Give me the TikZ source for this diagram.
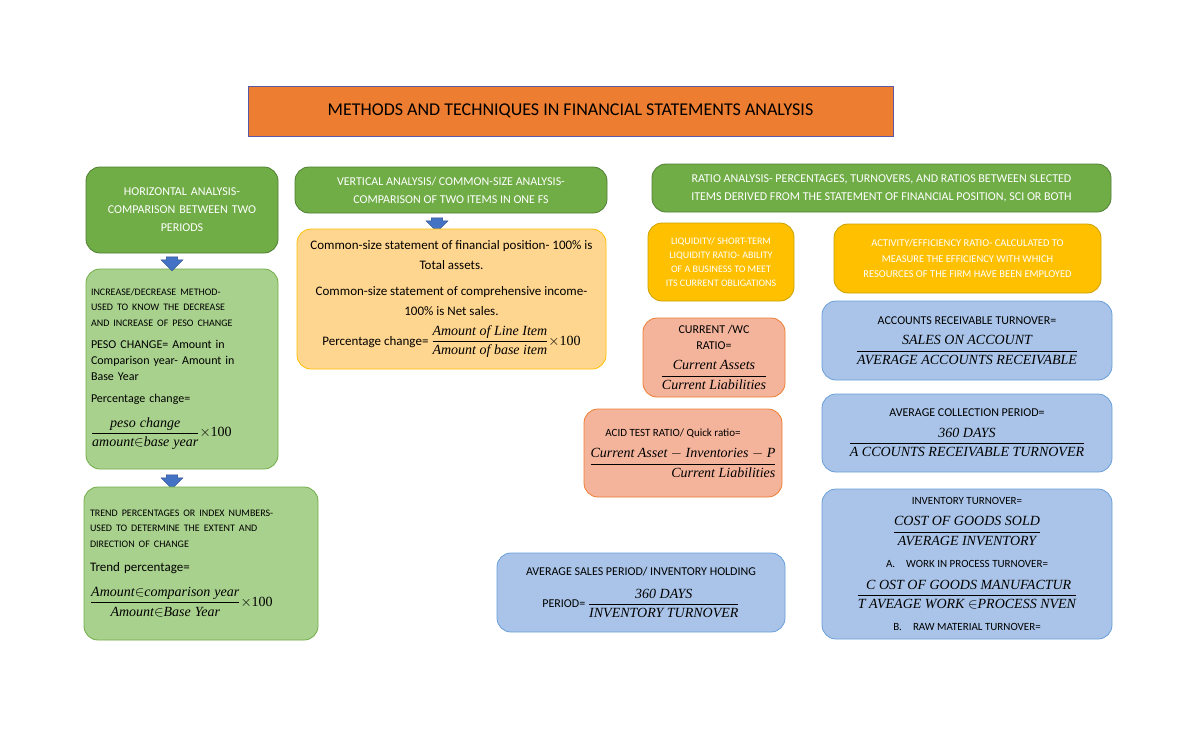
\documentclass[tikz,border=0pt]{standalone}
\usepackage{fontspec}
\setmainfont{Carlito}
\newfontfamily\mf{Liberation Serif}
\usetikzlibrary{shapes.arrows}
\newcommand{\fr}[2]{$\displaystyle\frac{\mbox{\mf\itshape #1}}{\mbox{\mf\itshape #2}}$}
\definecolor{dg}{HTML}{70AD47}
\definecolor{dgb}{HTML}{507E32}
\definecolor{lg}{HTML}{A9D18E}
\definecolor{lo}{HTML}{FFD68F}
\definecolor{gold}{HTML}{FFC000}
\definecolor{goldb}{HTML}{C9A200}
\definecolor{sal}{HTML}{F4B49C}
\definecolor{salb}{HTML}{ED7D31}
\definecolor{bl}{HTML}{A9C4E8}
\definecolor{blb}{HTML}{6A9FD8}
\definecolor{tor}{HTML}{ED7D31}
\definecolor{arb}{HTML}{4472C4}
\begin{document}
\begin{tikzpicture}[x=1pt,y=-1pt,
 bx/.style={rounded corners=14pt,line width=0.8pt,inner sep=4pt},
 green/.style={bx,fill=dg,draw=dgb,text=white,font=\fontsize{12}{18}\selectfont,align=center},
 lgreen/.style={bx,fill=lg,draw=dg,font=\fontsize{12}{16}\selectfont,align=left},
 gld/.style={bx,fill=gold,draw=goldb,text=white,font=\fontsize{10}{14}\selectfont,align=center},
 sl/.style={bx,fill=sal,draw=salb,font=\fontsize{12}{16}\selectfont,align=center},
 blu/.style={bx,fill=bl,draw=blb,font=\fontsize{12}{16}\selectfont,align=center},
 darr/.style={single arrow,fill=arb,draw=arb!70!black,shape border rotate=270,minimum height=14pt,minimum width=22pt,single arrow head extend=2pt,inner sep=2pt}]
\useasboundingbox (0,0) rectangle (1200,729);
\fill[white] (0,0) rectangle (1200,729);
\node[fill=tor,draw=gray!70!blue,line width=0.6pt,minimum width=645pt,minimum height=50pt,font=\fontsize{18}{20}\selectfont] (title) at (570.5,111) {METHODS AND TECHNIQUES IN FINANCIAL STATEMENTS ANALYSIS};
% horizontal
\node[green,minimum width=192pt,minimum height=86pt,text width=180pt] (hor) at (182,210) {HORIZONTAL ANALYSIS-\\COMPARISON BETWEEN TWO\\PERIODS};
\node[lgreen,minimum width=192pt,minimum height=200pt,text width=182pt] (inc) at (182,369) {{\fontsize{10}{15}\selectfont INCREASE/DECREASE METHOD-\\USED TO KNOW THE DECREASE\\AND INCREASE OF PESO CHANGE}\\[6pt]PESO CHANGE= Amount in\\Comparison year- Amount in\\Base Year\\[6pt]Percentage change=\\[12pt] {\fontsize{14}{16}\selectfont\fr{peso change}{amount$\in$base year}$\times${\mf 100}}};
\node[darr] (a1) at (172,261) {};
\node[darr] (a2) at (172,479) {};
\node[lgreen,minimum width=234pt,minimum height=153pt,text width=222pt] (trend) at (201,563.5) {{\fontsize{10}{15}\selectfont TREND PERCENTAGES OR INDEX NUMBERS-\\USED TO DETERMINE THE EXTENT AND\\DIRECTION OF CHANGE}\\[8pt]{\fontsize{13}{15}\selectfont Trend percentage=}\\[12pt]{\fontsize{14}{16}\selectfont\fr{Amount$\in$comparison year}{Amount$\in$Base Year}$\times${\mf 100}}};
% vertical
\node[green,minimum width=312pt,minimum height=46pt] (ver) at (451,190) {VERTICAL ANALYSIS/ COMMON-SIZE ANALYSIS-\\COMPARISON OF TWO ITEMS IN ONE FS};
\node[darr] (a3) at (437,222) {};
\node[bx,fill=lo,draw=gold,minimum width=309pt,minimum height=140pt,align=center,font=\fontsize{13}{20}\selectfont] (com) at (451.5,299) {Common-size statement of financial position- 100\% is\\Total assets.\\[6pt]Common-size statement of comprehensive income-\\100\% is Net sales.\\[10pt]Percentage change= {\fontsize{14}{16}\selectfont\fr{Amount of Line Item}{Amount of base item}$\times${\mf 100}}};
% ratio
\node[green,minimum width=459pt,minimum height=48pt] (rat) at (881.5,188) {RATIO ANALYSIS- PERCENTAGES, TURNOVERS, AND RATIOS BETWEEN SLECTED\\ITEMS DERIVED FROM THE STATEMENT OF FINANCIAL POSITION, SCI OR BOTH};
\node[gld,minimum width=146pt,minimum height=78pt] (liq) at (721,262) {LIQUIDITY/ SHORT-TERM\\LIQUIDITY RATIO- ABILITY\\OF A BUSINESS TO MEET\\ITS CURRENT OBLIGATIONS};
\node[gld,minimum width=267pt,minimum height=69pt,font=\fontsize{10.5}{15.5}\selectfont] (act) at (967.5,258.5) {ACTIVITY/EFFICIENCY RATIO- CALCULATED TO\\MEASURE THE EFFICIENCY WITH WHICH\\RESOURCES OF THE FIRM HAVE BEEN EMPLOYED};
\node[sl,minimum width=142pt,minimum height=79pt] (cur) at (714,357.5) {CURRENT /WC\\RATIO=\\[10pt]{\fontsize{14}{16}\selectfont\fr{Current Assets}{Current Liabilities}}};
\node[sl,minimum width=198pt,minimum height=88pt,font=\fontsize{11}{14}\selectfont] (acid) at (683,453) {\hspace*{-20pt}ACID TEST RATIO/ Quick ratio=\\[10pt]{\fontsize{14}{16}\selectfont\fr{Current Asset $-$ Inventories $-$ P}{\hfill Current Liabilities}}};
\node[blu,minimum width=290pt,minimum height=79pt] (ar) at (967,340.5) {ACCOUNTS RECEIVABLE TURNOVER=\\[10pt]{\fontsize{14}{16}\selectfont\fr{SALES ON ACCOUNT}{AVERAGE ACCOUNTS RECEIVABLE}}};
\node[blu,minimum width=290pt,minimum height=78pt] (acp) at (967,433) {AVERAGE COLLECTION PERIOD=\\[10pt]{\fontsize{14}{16}\selectfont\fr{360 DAYS}{A CCOUNTS RECEIVABLE TURNOVER}}};
\node[blu,minimum width=290pt,minimum height=150pt,font=\fontsize{11}{13}\selectfont] (inv) at (967,564) {INVENTORY TURNOVER=\\[11pt]{\fontsize{14}{16}\selectfont\fr{COST OF GOODS SOLD}{AVERAGE INVENTORY}}\\[14pt]A.\quad WORK IN PROCESS TURNOVER=\\[11pt]{\fontsize{14}{16}\selectfont\fr{\ C OST OF GOODS MANUFACTUR}{T AVEAGE WORK $\in$PROCESS NVEN}}\\[13pt]B.\quad RAW MATERIAL TURNOVER=};
\node[blu,minimum width=288pt,minimum height=79pt] (asp) at (641,592.5) {AVERAGE SALES PERIOD/ INVENTORY HOLDING\\[12pt]PERIOD= {\fontsize{14}{16}\selectfont\fr{360 DAYS}{INVENTORY TURNOVER}}};
\end{tikzpicture}
\end{document}
